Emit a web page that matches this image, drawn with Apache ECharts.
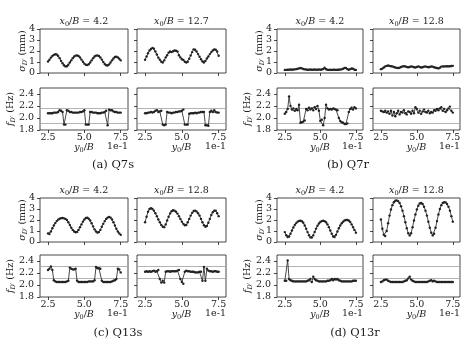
<!DOCTYPE html>
<html><head><meta charset="utf-8">
<script src="https://cdn.jsdelivr.net/npm/echarts@6/dist/echarts.min.js"></script>
<style>html,body{margin:0;padding:0;background:#fff}#c{width:474px;height:355px}</style>
</head><body><div id="c"></div>
<script>
// ---------------- data ----------------
const y0B = [2.5,2.6,2.7,2.8,2.9,3.0,3.1,3.2,3.3,3.4,3.5,3.6,3.7,3.8,3.9,4.0,4.1,4.2,4.3,4.4,4.5,4.6,4.7,4.8,4.9,5.0,5.1,5.2,5.3,5.4,5.5,5.6,5.7,5.8,5.9,6.0,6.1,6.2,6.3,6.4,6.5,6.6,6.7,6.8,6.9,7.0,7.1,7.2,7.3,7.4,7.5];
const xTicks = [2.5, 5.0, 7.5];
const sigmaTicks = [0, 1, 2, 3, 4];
const freqTicks = [1.8, 2.0, 2.2, 2.4];
const captions = ['(a) Q7s', '(b) Q7r', '(c) Q13s', '(d) Q13r'];
const x0B_Q7s = ['4.2', '12.7'];
const x0B_Q7r = ['4.2', '12.8'];
const x0B_Q13s = ['4.2', '12.8'];
const x0B_Q13r = ['4.2', '12.8'];
const refFreq_Q7 = [2.165, 1.915];
const refFreq_Q13 = [2.32, 2.11];

// Q7s
const sigma_Q7s_x42 = [1.05,1.2,1.4,1.55,1.65,1.7,1.68,1.55,1.35,1.1,0.88,0.7,0.6,0.62,0.75,0.95,1.15,1.35,1.5,1.58,1.6,1.55,1.42,1.22,1.02,0.85,0.75,0.72,0.8,0.95,1.15,1.35,1.5,1.58,1.6,1.55,1.42,1.22,1.0,0.82,0.7,0.68,0.78,0.95,1.15,1.32,1.45,1.48,1.42,1.3,1.15];
const sigma_Q7s_x127 = [1.2,1.5,1.8,2.05,2.18,2.28,2.2,1.95,1.68,1.4,1.2,1.02,0.96,1.15,1.42,1.62,1.85,1.96,1.9,1.98,2.05,2.02,1.95,1.62,1.42,1.25,1.18,1.02,0.96,1.02,1.3,1.6,1.9,2.15,2.12,1.95,1.72,1.48,1.25,1.05,0.96,1.1,1.32,1.5,1.72,1.9,2.05,2.15,2.12,1.95,1.57];
const freq_Q7s_x42 = [2.08,2.08,2.08,2.08,2.09,2.09,2.09,2.1,2.13,2.12,2.1,1.89,1.89,2.13,2.12,2.1,2.1,2.09,2.09,2.09,2.09,2.09,2.1,2.1,2.11,2.13,1.89,1.89,1.89,2.1,2.1,2.09,2.09,2.09,2.08,2.08,2.08,2.09,2.09,2.1,2.12,1.88,2.14,2.13,2.13,2.11,2.1,2.1,2.09,2.09,2.09];
const freq_Q7s_x127 = [2.08,2.08,2.09,2.09,2.1,2.09,2.1,2.12,2.13,2.1,2.11,2.12,1.89,1.88,1.89,2.1,2.09,2.09,2.08,2.09,2.09,2.1,2.1,2.11,2.11,2.12,2.14,1.89,1.89,1.89,2.07,2.08,2.08,2.08,2.09,2.08,2.09,2.09,2.1,2.1,2.1,1.88,1.88,1.87,2.1,2.12,2.1,2.13,2.1,2.09,2.09];
// Q7r
const sigma_Q7r_x42 = [0.28,0.28,0.3,0.3,0.32,0.3,0.32,0.33,0.35,0.38,0.42,0.46,0.42,0.36,0.33,0.32,0.3,0.3,0.32,0.3,0.3,0.32,0.3,0.3,0.32,0.3,0.32,0.36,0.48,0.34,0.3,0.28,0.3,0.28,0.3,0.3,0.28,0.3,0.3,0.32,0.33,0.38,0.45,0.47,0.35,0.3,0.35,0.42,0.38,0.3,0.28];
const sigma_Q7r_x128 = [0.35,0.4,0.5,0.6,0.65,0.68,0.65,0.62,0.6,0.55,0.5,0.47,0.45,0.48,0.55,0.6,0.62,0.6,0.55,0.52,0.55,0.6,0.58,0.52,0.5,0.55,0.6,0.55,0.5,0.52,0.58,0.6,0.56,0.52,0.55,0.6,0.58,0.52,0.48,0.45,0.42,0.48,0.58,0.6,0.6,0.6,0.62,0.6,0.62,0.64,0.65];
const freq_Q7r_x42 = [2.07,2.1,2.15,2.36,2.2,2.14,2.16,2.12,2.15,2.13,2.22,1.92,1.93,1.94,1.96,2.15,2.13,2.17,2.14,2.16,2.13,2.18,2.15,2.2,2.12,1.95,1.97,1.88,2.0,2.22,2.16,2.14,2.15,2.14,2.16,2.15,2.14,2.13,2.0,1.95,1.93,1.92,1.9,1.9,1.91,2.1,2.15,2.17,2.14,2.18,2.16];
const freq_Q7r_x128 = [2.12,2.11,2.1,2.12,2.09,2.11,2.07,2.12,2.04,2.1,2.03,2.08,2.12,2.06,2.1,2.09,2.13,2.08,2.06,2.11,2.1,2.07,2.12,2.08,2.18,2.15,2.09,2.12,2.07,2.11,2.14,2.1,2.09,2.12,2.08,2.1,2.09,2.13,2.12,2.15,2.13,2.16,2.18,2.12,2.15,2.1,2.13,2.16,2.19,2.12,2.09];
// Q13s
const sigma_Q13s_x42 = [0.78,0.72,0.95,1.25,1.5,1.72,1.9,2.03,2.12,2.17,2.18,2.15,2.1,2.0,1.8,1.55,1.3,1.1,0.95,0.88,0.92,1.1,1.35,1.6,1.85,2.05,2.18,2.2,2.12,1.95,1.7,1.42,1.15,0.95,0.85,0.9,1.1,1.38,1.65,1.9,2.1,2.22,2.28,2.22,2.05,1.8,1.5,1.2,0.95,0.78,0.65];
const sigma_Q13s_x128 = [1.8,2.3,2.75,3.0,3.08,3.0,2.85,2.62,2.35,2.05,1.8,1.55,1.38,1.35,1.6,1.95,2.3,2.6,2.8,2.88,2.85,2.75,2.58,2.35,2.1,1.85,1.65,1.52,1.55,1.8,2.1,2.4,2.65,2.82,2.85,2.78,2.62,2.4,2.1,1.8,1.52,1.38,1.45,1.75,2.1,2.45,2.7,2.85,2.85,2.62,2.35];
const freq_Q13s_x42 = [2.25,2.27,2.31,2.25,2.08,2.06,2.05,2.05,2.05,2.05,2.05,2.05,2.05,2.06,2.07,2.29,2.27,2.26,2.26,2.27,2.07,2.05,2.05,2.05,2.05,2.05,2.05,2.05,2.06,2.06,2.06,2.06,2.08,2.3,2.28,2.28,2.27,2.07,2.05,2.05,2.05,2.05,2.05,2.05,2.06,2.07,2.08,2.1,2.27,2.26,2.21];
const freq_Q13s_x128 = [2.22,2.23,2.22,2.23,2.22,2.23,2.24,2.22,2.23,2.25,2.1,2.04,2.07,2.04,2.22,2.23,2.23,2.22,2.23,2.23,2.23,2.23,2.24,2.25,2.1,2.05,2.02,2.22,2.24,2.23,2.23,2.22,2.22,2.22,2.21,2.21,2.21,2.22,2.22,2.07,2.3,2.07,2.27,2.24,2.23,2.23,2.22,2.23,2.23,2.22,2.22];
// Q13r
const sigma_Q13r_x42 = [0.9,0.62,0.45,0.5,0.75,1.05,1.32,1.55,1.72,1.85,1.92,1.93,1.88,1.75,1.5,1.2,0.9,0.62,0.42,0.4,0.6,0.92,1.22,1.48,1.68,1.82,1.9,1.93,1.9,1.8,1.6,1.35,1.05,0.75,0.5,0.45,0.65,0.95,1.25,1.5,1.7,1.85,1.95,2.0,2.0,1.95,1.82,1.6,1.35,1.1,0.85];
const sigma_Q13r_x128 = [2.05,1.2,0.65,0.55,1.0,1.7,2.4,2.95,3.35,3.62,3.75,3.78,3.72,3.55,3.25,2.85,2.35,1.8,1.25,0.8,0.6,0.8,1.35,1.95,2.5,2.95,3.3,3.5,3.55,3.45,3.2,2.85,2.4,1.85,1.3,0.85,0.6,0.75,1.3,1.9,2.5,3.0,3.35,3.55,3.62,3.6,3.45,3.2,2.85,2.35,1.85];
const freq_Q13r_x42 = [2.07,2.07,2.41,2.1,2.08,2.07,2.06,2.06,2.06,2.06,2.06,2.06,2.06,2.06,2.06,2.06,2.07,2.08,2.1,2.05,2.14,2.1,2.08,2.07,2.06,2.06,2.06,2.06,2.06,2.06,2.07,2.07,2.08,2.1,2.08,2.1,2.09,2.1,2.08,2.07,2.06,2.06,2.06,2.06,2.06,2.06,2.06,2.06,2.07,2.07,2.07];
const freq_Q13r_x128 = [2.05,2.06,2.08,2.09,2.09,2.07,2.06,2.05,2.05,2.05,2.05,2.05,2.05,2.05,2.05,2.05,2.06,2.07,2.08,2.11,2.14,2.09,2.07,2.06,2.05,2.05,2.05,2.05,2.05,2.05,2.05,2.05,2.05,2.06,2.07,2.08,2.06,2.07,2.06,2.05,2.05,2.05,2.05,2.05,2.05,2.05,2.05,2.05,2.05,2.05,2.05];

// ---------------- layout ----------------
const FONT = 'DejaVu Serif';
const INK = '#1a1a1a';
const panelDefs = [
  {cap: captions[0], x0: x0B_Q7s, cols: [[40,88],[137,89]], rows: [[29,44],[88,42]], refs: refFreq_Q7,
   sig: [sigma_Q7s_x42, sigma_Q7s_x127], fr: [freq_Q7s_x42, freq_Q7s_x127], capX: 113, capY: 165},
  {cap: captions[1], x0: x0B_Q7r, cols: [[277,86],[373,87]], rows: [[29,44],[88,42]], refs: refFreq_Q7,
   sig: [sigma_Q7r_x42, sigma_Q7r_x128], fr: [freq_Q7r_x42, freq_Q7r_x128], capX: 348, capY: 165},
  {cap: captions[2], x0: x0B_Q13s, cols: [[40,88],[137,89]], rows: [[198,44],[255,42]], refs: refFreq_Q13,
   sig: [sigma_Q13s_x42, sigma_Q13s_x128], fr: [freq_Q13s_x42, freq_Q13s_x128], capX: 118, capY: 333.5},
  {cap: captions[3], x0: x0B_Q13r, cols: [[277,86],[373,87]], rows: [[198,44],[255,42]], refs: refFreq_Q13,
   sig: [sigma_Q13r_x42, sigma_Q13r_x128], fr: [freq_Q13r_x42, freq_Q13r_x128], capX: 355, capY: 333.5}
];

const grids = [], xAxes = [], yAxes = [], series = [], graphics = [];
const richBase = {
  i: {fontFamily: FONT, fontStyle: 'italic', fontSize: 9.5, fill: INK, lineHeight: 12},
  n: {fontFamily: FONT, fontSize: 9.5, fill: INK, lineHeight: 12},
  s: {fontFamily: FONT, fontStyle: 'italic', fontSize: 6.5, fill: INK, lineHeight: 5, verticalAlign: 'bottom'},
  s0: {fontFamily: FONT, fontSize: 6.5, fill: INK, lineHeight: 5, verticalAlign: 'bottom'}
};
function txt(x, y, text, opts) {
  return Object.assign({type: 'text', x: x, y: y, silent: true,
    style: Object.assign({text: text, fill: INK, font: '9.5px "' + FONT + '"', align: 'center', verticalAlign: 'middle', rich: richBase}, opts && opts.style || {})},
    opts && opts.rotation ? {rotation: opts.rotation} : {});
}

panelDefs.forEach(function (p) {
  for (let r = 0; r < 2; r++) {
    for (let c = 0; c < 2; c++) {
      const idx = grids.length;
      const left = p.cols[c][0], width = p.cols[c][1];
      const top = p.rows[r][0], height = p.rows[r][1];
      const isSig = r === 0;
      grids.push({left: left, top: top, width: width, height: height, show: true,
        borderColor: INK, borderWidth: 0.8, backgroundColor: 'transparent', outerBoundsMode: 'none', containLabel: false});
      xAxes.push({type: 'value', gridIndex: idx, min: 1.95, max: 8.0,
        axisLine: {show: false}, splitLine: {show: false},
        axisTick: {show: true, customValues: xTicks, length: 3, lineStyle: {color: INK, width: 0.8}},
        axisLabel: {show: !isSig, customValues: xTicks, margin: 3, color: INK, fontFamily: FONT, fontSize: 9.5,
          formatter: function (v) { return v.toFixed(1); }}});
      yAxes.push({type: 'value', gridIndex: idx,
        min: isSig ? 0 : 1.8, max: isSig ? 4 : 2.5,
        axisLine: {show: false}, splitLine: {show: false},
        axisTick: {show: true, customValues: isSig ? sigmaTicks : freqTicks, length: 3, lineStyle: {color: INK, width: 0.8}},
        axisLabel: {show: c === 0, customValues: isSig ? sigmaTicks : freqTicks, margin: isSig ? 5 : 6, color: INK,
          fontFamily: FONT, fontSize: 9.5,
          formatter: isSig ? function (v) { return String(v); } : function (v) { return v.toFixed(1); }}});
      const vals = isSig ? p.sig[c] : p.fr[c];
      const s = {type: 'line', xAxisIndex: idx, yAxisIndex: idx, silent: true,
        data: y0B.map(function (x, k) { return [x, vals[k]]; }),
        symbol: 'circle', symbolSize: 2.4, showSymbol: true,
        itemStyle: {color: '#222'}, lineStyle: {color: '#333', width: 0.9}, z: 3};
      if (!isSig) {
        s.markLine = {silent: true, symbol: 'none', label: {show: false}, z: 1,
          lineStyle: {color: '#a0a0a0', width: 0.8, type: 'solid'},
          data: p.refs.map(function (v) { return {yAxis: v}; })};
      }
      series.push(s);
      if (isSig) {
        graphics.push(txt(left + width / 2, top - 7, '{i|x}{s0|0}{n|/}{i|B}{n| = ' + p.x0[c] + '}'));
      } else {
        graphics.push(txt(left + width / 2, top + height + 18, '{i|y}{s0|0}{n|/}{i|B}'));
        graphics.push(txt(left + width, top + height + 17, '1e-1', {style: {align: 'right', font: '9.5px "' + FONT + '"'}}));
      }
    }
  }
  const lx = p.cols[0][0];
  graphics.push(txt(lx - 17.5, p.rows[0][0] + p.rows[0][1] / 2, '{i|σ}{s|D′}{n| (mm)}', {rotation: Math.PI / 2}));
  graphics.push(txt(lx - 29.5, p.rows[1][0] + p.rows[1][1] / 2, '{i|f}{s|D′}{n| (Hz)}', {rotation: Math.PI / 2}));
  graphics.push(txt(p.capX, p.capY, p.cap, {style: {font: '11.5px "' + FONT + '"'}}));
});

const chart = echarts.init(document.getElementById('c'), null, {renderer: 'canvas'});
chart.setOption({
  animation: false,
  backgroundColor: '#fff',
  grid: grids, xAxis: xAxes, yAxis: yAxes, series: series,
  graphic: graphics
});
</script></body></html>
